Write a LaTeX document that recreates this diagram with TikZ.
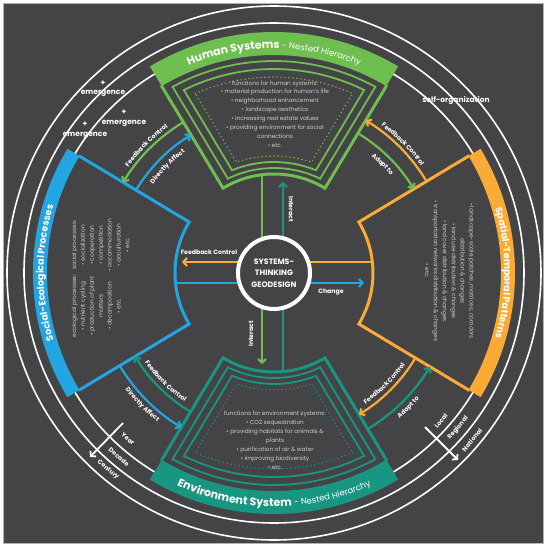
\documentclass[tikz,border=0pt]{standalone}
\usepackage{fontspec}
\setmainfont{Poppins}
\usetikzlibrary{arrows.meta,decorations.text}
\definecolor{bg}{RGB}{68,68,70}
\definecolor{cgreen}{RGB}{110,190,80}
\definecolor{cblue}{RGB}{35,165,225}
\definecolor{corange}{RGB}{250,170,55}
\definecolor{cteal}{RGB}{25,150,130}
\definecolor{ctext}{RGB}{205,205,205}
% #1 centre angle, #2 colour, #3 inner radius of band
\newcommand{\mybandfill}[3]{\fill[#2] ({#1+31}:241) arc[start angle={#1+31}, end angle={#1-31}, radius=241] -- ({#1-31}:#3) arc[start angle={#1-31}, end angle={#1+31}, radius=#3] -- cycle;}
\newcommand{\myoutline}[3]{\draw[outl=#2] ({#1+31}:#3) -- ({#1+31}:99) arc[start angle={#1+31}, end angle={#1-31}, radius=99] -- ({#1-31}:#3);}
\newcommand{\mynest}[5]{\draw[#1] ({#2+31-asin(#3/#4)}:#4) arc[start angle={#2+31-asin(#3/#4)}, end angle={#2-31+asin(#3/#4)}, radius=#4] -- ({#2-31+asin(#3/#5)}:#5) arc[start angle={#2-31+asin(#3/#5)}, end angle={#2+31-asin(#3/#5)}, radius=#5] -- cycle;}
\newcommand{\myarctext}[5]{\path[decorate, decoration={text along path, text align=center, text color=white, text={|#4|#5}}] ({#1}:#3) arc[start angle=#1, end angle=#2, radius=#3];}
\newcommand{\lblfmt}{\bfseries\fontsize{6.2}{7}\selectfont}
\begin{document}
\begin{tikzpicture}[x=1pt,y=1pt,
  outl/.style={draw=#1, line width=3pt, line join=miter},
  nestline/.style={draw=#1, line width=1.8pt},
  dotline/.style={draw=#1, line width=1.6pt, dash pattern=on 0pt off 4pt, line cap=round},
  conn/.style={draw=#1, line width=2.2pt, -{Straight Barb[length=3.5pt,width=8pt]}},
  ring/.style={draw=white, line width=1.6pt},
  lbl/.style={text=white, font=\lblfmt, inner sep=0pt},
  em/.style={text=white, font=\bfseries\fontsize{7.5}{8}\selectfont, inner sep=0pt},
  wtext/.style={text=ctext, font=\fontsize{5.8}{8.9}\selectfont, align=center, inner sep=0pt}]
\useasboundingbox (-274,-277) rectangle (274,273);
\fill[white] (-274,-277) rectangle (274,273);
\fill[bg, draw=gray!60, line width=0.6pt] (-271,-270) rectangle (269,270);
% rings
\foreach \r in {232,250,267} \draw[ring] (0,0) circle[radius=\r];
% bands
\mybandfill{90}{cgreen}{218}
\mybandfill{270}{cteal}{218}
\mybandfill{180}{cblue}{227}
\mybandfill{0}{corange}{227}
% outlines
\myoutline{90}{cgreen}{219}
\myoutline{270}{cteal}{219}
\myoutline{180}{cblue}{228}
\myoutline{0}{corange}{228}
% nested hierarchy
\mynest{nestline=cgreen}{90}{9}{212}{105}
\mynest{nestline=cgreen}{90}{17}{204}{111}
\mynest{dotline=cgreen}{90}{25}{196}{117}
\mynest{nestline=cteal}{270}{9}{212}{105}
\mynest{nestline=cteal}{270}{17}{204}{111}
\mynest{dotline=cteal}{270}{25}{196}{117}
% band titles
\myarctext{121}{59}{224.5}{\bfseries\fontsize{11}{11}\selectfont}{Human Systems |\mdseries\fontsize{8.5}{9}\selectfont|- Nested Hierarchy}
\myarctext{239}{301}{233.5}{\bfseries\fontsize{11}{11}\selectfont}{Environment System |\mdseries\fontsize{8.5}{9}\selectfont|- Nested Hierarchy}
\myarctext{211}{149}{230.5}{\bfseries\fontsize{9.5}{10}\selectfont}{Social-Ecological Processes}
\myarctext{31}{-31}{230.5}{\bfseries\fontsize{9.5}{10}\selectfont}{Spatial-Temporal Patterns}
% connectors between wedges
\draw[conn=cgreen] (121:176) arc[start angle=121, end angle=149, radius=176];
\myarctext{149}{121}{180}{\lblfmt}{Feedback Control}
\draw[conn=cblue] (149:161) arc[start angle=149, end angle=121, radius=161];
\myarctext{149}{121}{150}{\lblfmt}{Directly Affect}
\draw[conn=corange] (31:178) arc[start angle=31, end angle=59, radius=178];
\myarctext{59}{31}{182}{\lblfmt}{Feedback Control}
\draw[conn=cgreen] (59:163) arc[start angle=59, end angle=31, radius=163];
\myarctext{59}{31}{152}{\lblfmt}{Adapt to}
\draw[conn=cblue] (211:180) arc[start angle=211, end angle=239, radius=180];
\myarctext{211}{239}{189}{\lblfmt}{Directly Affect}
\draw[conn=cteal] (239:162) arc[start angle=239, end angle=211, radius=162];
\myarctext{211}{239}{157}{\lblfmt}{Feedback Control}
\draw[conn=cteal] (301:182) arc[start angle=301, end angle=329, radius=182];
\myarctext{301}{329}{192}{\lblfmt}{Adapt to}
\draw[conn=corange] (329:165) arc[start angle=329, end angle=301, radius=165];
\myarctext{301}{329}{160}{\lblfmt}{Feedback Control}
% center connectors
\coordinate (gtop) at (-12,98.3);
\coordinate (gbot) at (-12,-91);
\coordinate (ttop) at (9,91);
\coordinate (tbot) at (9,-98.6);
\coordinate (oright) at (98.4,11);
\coordinate (oleft) at (-92,11);
\coordinate (bleft) at (-98.5,-10);
\coordinate (bright) at (90,-10);
\draw[conn=cgreen] (gtop) -- (gbot);
\draw[conn=cteal] (tbot) -- (ttop);
\draw[conn=corange] (oright) -- (oleft);
\draw[conn=cblue] (bleft) -- (bright);
\node[circle, draw=white, line width=4pt, fill=bg, minimum size=72pt, inner sep=0pt] (core) at (0,0) {};
\node[text=white, font=\bfseries\fontsize{7.8}{11.5}\selectfont, align=center] (coretext) at (core) {SYSTEMS-\\THINKING\\GEODESIGN};
\node[lbl] (fbc) at (-65,21) {Feedback Control};
\node[lbl] (chg) at (57,-19) {Change};
\node[lbl, rotate=90] (int1) at (-23,-61) {Interact};
\node[lbl, rotate=-90] (int2) at (17,64) {Interact};
% wedge texts
\node[wtext] (htext) at (1,159) {functions for human systems:\\ • material production for human's life\\ • neighborhood enhancement\\ • landscape aesthetics\\ • increasing real estate values\\ • providing environment for social\\ connections\\ • etc.};
\node[wtext] (etext) at (1,-167.5) {functions for environment systems:\\ • CO2 sequestration\\ • providing habitats for animals \&\\ plants\\ • purification of air \& water\\ • improving biodiversity\\ • etc.};
\node[wtext, rotate=90] (stext) at (-173,-5) {\begin{tabular}{@{}c@{\hspace{3pt}}c@{}}ecological processes: & social processes:\\ • nutrient cycling & • socialization\\ • production of plant & • cooperation\\ matters & • competition\\ • decomposition & • accommodation\\ • etc. & • acculturation\\ & • etc.\end{tabular}};
\node[wtext, rotate=-90] (ptext) at (175.5,2) {• landscape-scale patches, matrices, corridors\\ distribution \& changes\\ • land use distribution \& changes\\ • land cover distribution \& changes\\ • transportation networks distribution \& changes\\ • etc.};
% emergence / self-organization
\node[em] (p1) at (-171,190) {+};
\node[em] (e1) at (-171,180) {emergence};
\node[em] (p2) at (-150,161) {+};
\node[em] (e2) at (-150,150) {emergence};
\node[em] (p3) at (-189,149) {+};
\node[em] (e3) at (-189,138) {emergence};
\node[em] (so) at (182,172) {self-organization};
% scales
\coordinate (ya) at (-151,-150);
\coordinate (yb) at (-184,-184);
\draw[draw=white, line width=1.8pt, -{Straight Barb[length=3.5pt,width=8pt]}] (ya) -- (yb);
\node[lbl, rotate=-40] (yr) at (-146,-166) {Year};
\node[lbl, rotate=-40] (dc) at (-155,-184) {Decade};
\node[lbl, rotate=-40] (ct) at (-166,-197) {Century};
\coordinate (la) at (151,-154);
\coordinate (lb) at (184,-187);
\draw[draw=white, line width=1.8pt, -{Straight Barb[length=3.5pt,width=8pt]}] (la) -- (lb);
\node[lbl, rotate=50] (lo) at (167,-148) {Local};
\node[lbl, rotate=50] (rg) at (184,-155) {Regional};
\node[lbl, rotate=50] (na) at (198,-167) {National};
\end{tikzpicture}
\end{document}
